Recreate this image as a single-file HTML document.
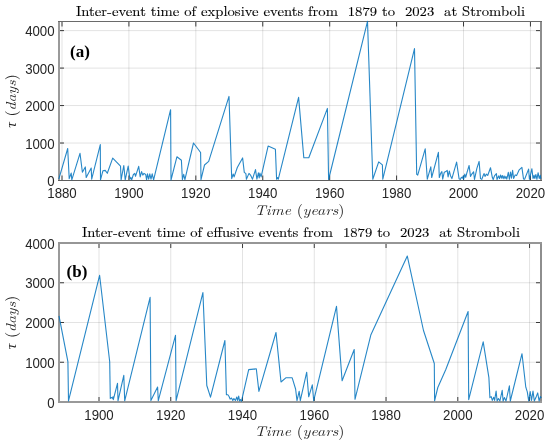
<!DOCTYPE html>
<html><head><meta charset="utf-8"><style>
html,body{margin:0;padding:0;background:#fff;width:550px;height:444px;overflow:hidden}
svg{display:block}
.tk{font-family:"Liberation Sans",Arial,sans-serif;font-size:13.8px;fill:#262626}
.lab{font-family:"Latin Modern Roman","LM Roman 10","Liberation Serif",serif;font-style:italic;font-size:14px;fill:#262626}
.ti{font-family:"Latin Modern Roman","LM Roman 10","Liberation Serif",serif;font-size:13.6px;fill:#000;stroke:#000;stroke-width:0.12px}
.tau{font-family:"Liberation Serif",serif;font-style:italic}
.pl{font-family:"Liberation Serif","DejaVu Serif",serif;font-weight:bold;font-size:17px;fill:#000}
</style></head><body>
<svg width="550" height="444" viewBox="0 0 550 444">
<rect width="550" height="444" fill="#fff"/>
<path d="M62.00 21.5V180.5 M128.92 21.5V180.5 M195.84 21.5V180.5 M262.76 21.5V180.5 M329.68 21.5V180.5 M396.60 21.5V180.5 M463.52 21.5V180.5 M530.44 21.5V180.5" stroke="#262626" stroke-opacity="0.13" stroke-width="1" fill="none"/>
<path d="M59.0 180.50H541.0 M59.0 143.03H541.0 M59.0 105.56H541.0 M59.0 68.09H541.0 M59.0 30.62H541.0" stroke="#262626" stroke-opacity="0.13" stroke-width="1" fill="none"/>
<path d="M62.00 180.5v-5M62.00 21.5v5 M128.92 180.5v-5M128.92 21.5v5 M195.84 180.5v-5M195.84 21.5v5 M262.76 180.5v-5M262.76 21.5v5 M329.68 180.5v-5M329.68 21.5v5 M396.60 180.5v-5M396.60 21.5v5 M463.52 180.5v-5M463.52 21.5v5 M530.44 180.5v-5M530.44 21.5v5 M59.0 180.50h5M541.0 180.50h-5 M59.0 143.03h5M541.0 143.03h-5 M59.0 105.56h5M541.0 105.56h-5 M59.0 68.09h5M541.0 68.09h-5 M59.0 30.62h5M541.0 30.62h-5" stroke="#262626" stroke-width="0.9" fill="none"/>
<rect x="58" y="21" width="2" height="160" fill="#9a9a9a"/>
<rect x="540" y="21" width="2" height="160" fill="#8e8e8e"/>
<rect x="58" y="21" width="484" height="1" fill="#6a6a6a"/>
<rect x="58" y="180" width="484" height="1" fill="#5e5e5e"/>
<polyline points="58.8,179.2 67.7,148.5 69.2,178.6 71.2,173.1 71.8,179.8 80.0,153.4 82.4,172.2 85.3,166.9 86.2,177.4 91.2,168.1 91.7,179.2 100.3,144.6 100.5,179.8 102.9,170.8 105.2,170.4 107.3,173.3 112.7,158.1 120.5,166.1 121.1,179.8 123.8,165.5 125.2,179.8 128.2,166.1 129.9,179.2 130.9,177.4 131.7,179.8 133.4,174.5 134.8,173.4 135.5,176.3 138.7,166.3 140.2,176.9 141.6,171.6 142.8,175.1 144.0,173.4 145.7,174.5 146.6,179.8 147.5,173.9 148.7,179.2 149.8,173.9 151.0,179.2 152.2,173.9 153.6,179.8 170.6,109.7 171.0,180.0 176.9,156.8 181.4,160.3 182.4,179.7 183.7,174.4 184.9,179.7 193.5,143.0 200.6,152.5 201.0,179.7 204.5,165.0 208.7,161.4 229.0,96.4 231.7,178.6 233.2,174.0 234.1,176.9 237.3,167.5 242.6,157.9 244.3,172.4 245.9,173.6 246.4,179.2 249.0,173.4 250.5,175.1 252.5,179.2 255.5,169.6 256.9,179.2 258.4,172.8 259.2,178.0 259.9,173.1 261.1,176.9 268.1,146.1 275.4,149.3 276.6,179.2 277.5,177.5 278.3,179.2 298.6,97.4 303.8,157.7 308.8,157.7 327.4,108.4 328.6,179.5 367.5,21.3 372.8,179.2 378.7,161.9 382.4,164.9 382.8,179.2 414.5,48.6 416.7,174.3 417.7,175.1 425.2,148.8 427.3,179.2 430.8,166.9 431.7,177.5 438.4,152.3 439.3,177.5 440.7,173.4 441.9,171.6 442.7,179.2 444.3,172.2 445.8,171.6 447.2,170.4 448.1,176.9 449.3,171.0 450.5,175.7 451.9,178.6 456.6,162.1 459.1,178.8 460.3,179.4 461.4,177.3 462.3,178.2 463.2,175.9 463.6,179.5 464.8,174.1 465.7,177.3 466.8,173.2 469.1,165.5 470.5,176.4 471.8,174.1 473.6,171.8 474.5,179.5 476.8,168.6 479.1,161.4 480.5,178.6 481.8,179.4 483.2,175.5 484.1,173.6 485.0,176.4 486.4,174.1 487.7,175.5 490.5,167.7 492.3,177.3 493.2,179.5 494.5,175.9 496.4,173.6 497.0,179.5 498.6,175.9 499.5,178.6 500.5,175.0 501.4,178.2 502.3,175.5 503.2,178.6 504.1,175.9 505.0,178.6 505.9,176.4 506.8,179.1 508.3,172.4 509.4,179.3 510.5,172.0 511.5,178.2 512.6,170.2 513.6,178.5 515.2,174.9 516.6,175.6 519.2,169.8 521.9,167.3 523.5,178.9 524.6,179.3 528.6,169.1 529.4,179.3 531.9,168.7 533.0,178.5 534.1,175.3 534.8,178.5 535.9,174.5 536.9,179.3 538.1,172.7 539.2,178.5 540.3,175.3 540.8,178.9" fill="none" stroke="#0072BD" stroke-opacity="0.85" stroke-width="1.1" stroke-linejoin="round"/>
<text x="62.00" y="198.10" text-anchor="middle" class="tk" textLength="29.46" lengthAdjust="spacingAndGlyphs">1880</text>
<text x="128.92" y="198.10" text-anchor="middle" class="tk" textLength="29.46" lengthAdjust="spacingAndGlyphs">1900</text>
<text x="195.84" y="198.10" text-anchor="middle" class="tk" textLength="29.46" lengthAdjust="spacingAndGlyphs">1920</text>
<text x="262.76" y="198.10" text-anchor="middle" class="tk" textLength="29.46" lengthAdjust="spacingAndGlyphs">1940</text>
<text x="329.68" y="198.10" text-anchor="middle" class="tk" textLength="29.46" lengthAdjust="spacingAndGlyphs">1960</text>
<text x="396.60" y="198.10" text-anchor="middle" class="tk" textLength="29.46" lengthAdjust="spacingAndGlyphs">1980</text>
<text x="463.52" y="198.10" text-anchor="middle" class="tk" textLength="29.46" lengthAdjust="spacingAndGlyphs">2000</text>
<text x="530.44" y="198.10" text-anchor="middle" class="tk" textLength="29.46" lengthAdjust="spacingAndGlyphs">2020</text>
<text x="54.60" y="186.20" text-anchor="end" class="tk" textLength="7.37" lengthAdjust="spacingAndGlyphs">0</text>
<text x="54.60" y="148.73" text-anchor="end" class="tk" textLength="29.46" lengthAdjust="spacingAndGlyphs">1000</text>
<text x="54.60" y="111.26" text-anchor="end" class="tk" textLength="29.46" lengthAdjust="spacingAndGlyphs">2000</text>
<text x="54.60" y="73.79" text-anchor="end" class="tk" textLength="29.46" lengthAdjust="spacingAndGlyphs">3000</text>
<text x="54.60" y="36.32" text-anchor="end" class="tk" textLength="29.46" lengthAdjust="spacingAndGlyphs">4000</text>
<text x="299.5" y="214.5" class="lab" text-anchor="middle" textLength="90" lengthAdjust="spacingAndGlyphs">Time <tspan font-style="normal">(</tspan>years<tspan font-style="normal">)</tspan></text>
<text transform="translate(15.8,101.0) rotate(-90)" class="lab" text-anchor="middle" textLength="53.5" lengthAdjust="spacingAndGlyphs"><tspan class="tau">τ</tspan> <tspan font-style="normal">(</tspan>days<tspan font-style="normal">)</tspan></text>
<text x="70" y="56.5" class="pl">(a)</text>
<text x="300.5" y="15.6" class="ti" text-anchor="middle" textLength="449" lengthAdjust="spacingAndGlyphs" xml:space="preserve">Inter-event time of explosive events from  1879 to  2023  at Stromboli</text>
<path d="M99.00 243.0V402.0 M170.76 243.0V402.0 M242.52 243.0V402.0 M314.28 243.0V402.0 M386.04 243.0V402.0 M457.80 243.0V402.0 M529.56 243.0V402.0" stroke="#262626" stroke-opacity="0.13" stroke-width="1" fill="none"/>
<path d="M59.0 402.00H541.0 M59.0 362.25H541.0 M59.0 322.50H541.0 M59.0 282.75H541.0 M59.0 243.00H541.0" stroke="#262626" stroke-opacity="0.13" stroke-width="1" fill="none"/>
<path d="M99.00 402.0v-5M99.00 243.0v5 M170.76 402.0v-5M170.76 243.0v5 M242.52 402.0v-5M242.52 243.0v5 M314.28 402.0v-5M314.28 243.0v5 M386.04 402.0v-5M386.04 243.0v5 M457.80 402.0v-5M457.80 243.0v5 M529.56 402.0v-5M529.56 243.0v5 M59.0 402.00h5M541.0 402.00h-5 M59.0 362.25h5M541.0 362.25h-5 M59.0 322.50h5M541.0 322.50h-5 M59.0 282.75h5M541.0 282.75h-5 M59.0 243.00h5M541.0 243.00h-5" stroke="#262626" stroke-width="0.9" fill="none"/>
<rect x="58" y="242" width="2" height="161" fill="#9a9a9a"/>
<rect x="540" y="242" width="2" height="161" fill="#8e8e8e"/>
<rect x="58" y="242" width="484" height="2" fill="#969696"/>
<rect x="58" y="401" width="484" height="2" fill="#999999"/>
<polyline points="59.0,315.9 67.9,361.6 68.5,400.9 99.6,275.3 109.7,361.8 110.3,398.4 111.3,397.5 112.5,398.3 113.0,396.7 113.3,399.7 117.5,383.3 118.0,400.8 123.8,375.3 124.7,400.8 150.1,297.3 150.9,400.6 157.6,387.0 158.3,400.7 175.5,335.3 176.1,400.6 202.9,292.6 206.8,385.5 210.5,397.2 224.9,340.5 226.4,394.8 227.9,394.8 229.2,396.7 230.1,399.1 231.5,398.0 232.8,400.5 233.9,398.6 235.4,400.5 236.8,397.0 237.7,400.5 238.7,396.0 239.6,401.0 240.5,399.5 241.5,401.2 248.7,369.6 256.3,368.8 258.9,391.4 276.0,332.5 281.0,382.0 285.8,377.8 292.2,377.8 295.6,389.0 297.0,400.7 299.2,391.2 300.3,400.7 306.7,372.2 308.7,396.8 312.3,384.8 313.7,400.7 336.5,306.4 342.1,380.8 354.2,349.5 355.0,399.3 370.8,335.1 407.3,256.1 423.5,330.5 434.3,363.5 434.6,400.8 437.8,387.5 445.7,369.8 468.1,311.5 468.7,399.6 483.2,341.8 488.9,377.7 489.9,397.6 491.2,396.6 492.3,400.4 493.7,397.2 494.6,400.4 496.1,391.0 497.1,401.0 498.4,398.5 499.9,401.0 502.2,390.4 503.1,401.0 504.4,397.6 506.0,401.0 509.4,385.9 510.3,401.0 522.0,353.7 525.8,387.2 527.3,391.9 528.7,401.0 530.2,391.5 531.5,400.4 533.0,391.0 534.3,401.0 535.9,397.6 537.7,392.9 539.1,401.0 540.4,396.6 541.3,398.0" fill="none" stroke="#0072BD" stroke-opacity="0.85" stroke-width="1.1" stroke-linejoin="round"/>
<text x="99.00" y="419.60" text-anchor="middle" class="tk" textLength="29.46" lengthAdjust="spacingAndGlyphs">1900</text>
<text x="170.76" y="419.60" text-anchor="middle" class="tk" textLength="29.46" lengthAdjust="spacingAndGlyphs">1920</text>
<text x="242.52" y="419.60" text-anchor="middle" class="tk" textLength="29.46" lengthAdjust="spacingAndGlyphs">1940</text>
<text x="314.28" y="419.60" text-anchor="middle" class="tk" textLength="29.46" lengthAdjust="spacingAndGlyphs">1960</text>
<text x="386.04" y="419.60" text-anchor="middle" class="tk" textLength="29.46" lengthAdjust="spacingAndGlyphs">1980</text>
<text x="457.80" y="419.60" text-anchor="middle" class="tk" textLength="29.46" lengthAdjust="spacingAndGlyphs">2000</text>
<text x="529.56" y="419.60" text-anchor="middle" class="tk" textLength="29.46" lengthAdjust="spacingAndGlyphs">2020</text>
<text x="54.60" y="407.70" text-anchor="end" class="tk" textLength="7.37" lengthAdjust="spacingAndGlyphs">0</text>
<text x="54.60" y="367.95" text-anchor="end" class="tk" textLength="29.46" lengthAdjust="spacingAndGlyphs">1000</text>
<text x="54.60" y="328.20" text-anchor="end" class="tk" textLength="29.46" lengthAdjust="spacingAndGlyphs">2000</text>
<text x="54.60" y="288.45" text-anchor="end" class="tk" textLength="29.46" lengthAdjust="spacingAndGlyphs">3000</text>
<text x="54.60" y="248.70" text-anchor="end" class="tk" textLength="29.46" lengthAdjust="spacingAndGlyphs">4000</text>
<text x="299.5" y="435.7" class="lab" text-anchor="middle" textLength="90" lengthAdjust="spacingAndGlyphs">Time <tspan font-style="normal">(</tspan>years<tspan font-style="normal">)</tspan></text>
<text transform="translate(15.8,322.5) rotate(-90)" class="lab" text-anchor="middle" textLength="53.5" lengthAdjust="spacingAndGlyphs"><tspan class="tau">τ</tspan> <tspan font-style="normal">(</tspan>days<tspan font-style="normal">)</tspan></text>
<text x="66.6" y="277.3" class="pl">(b)</text>
<text x="301" y="237.1" class="ti" text-anchor="middle" textLength="438" lengthAdjust="spacingAndGlyphs" xml:space="preserve">Inter-event time of effusive events from  1879 to  2023  at Stromboli</text>
</svg>
</body></html>
